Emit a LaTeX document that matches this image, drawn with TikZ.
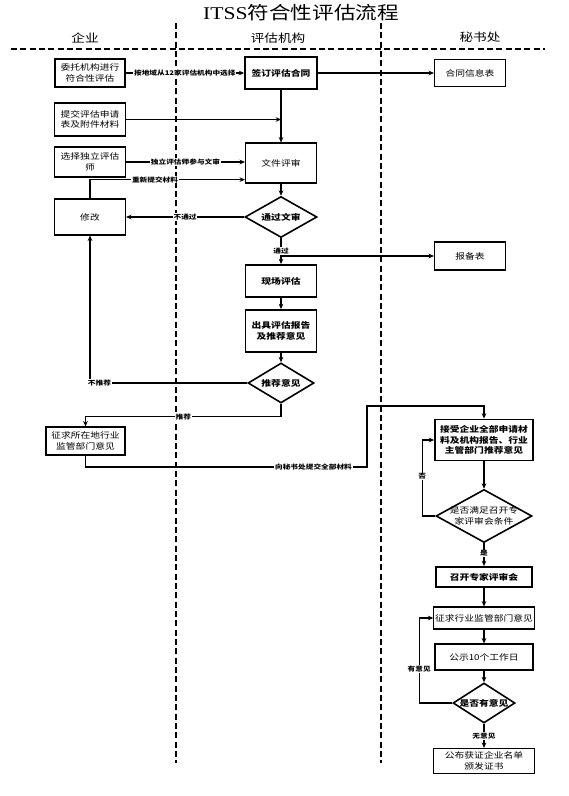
\documentclass[tikz,border=0pt]{standalone}
\usepackage{fontspec}
\setmainfont{Noto Sans CJK SC}[FakeStretch=1.2]
\newfontfamily\latinserif{Liberation Serif}[FakeStretch=1.2]
\usetikzlibrary{arrows.meta, shapes.geometric}

\begin{document}
\begin{tikzpicture}[
    x=0.75pt, y=-0.75pt,
    box/.style={
        rectangle,
        draw,
        line width=0.9pt,
        align=center,
        inner sep=1pt,
        font=\fontsize{6.1}{8}\selectfont
    },
    boldbox/.style={box, line width=1.4pt, font=\fontsize{6.1}{8}\selectfont\bfseries},
    decision/.style={
        diamond,
        draw,
        line width=1.2pt,
        align=center,
        inner sep=-1.5pt,
        font=\fontsize{6.1}{8}\selectfont\bfseries
    },
    arrow/.style={-{Stealth[length=4pt, width=3.5pt]}, line width=0.8pt},
    lbl/.style={fill=white, inner sep=0.5pt, font=\fontsize{4.8}{5}\selectfont\bfseries},
    lane/.style={dash pattern=on 4.5pt off 2.5pt, line width=0.9pt},
    head/.style={font=\fontsize{8.5}{10}\selectfont}
]
\useasboundingbox (0,0) rectangle (568,796);

% title and lanes
\node[font=\fontsize{13.5}{16}\selectfont] (title) at (301,13) {{\latinserif ITSS}符合性评估流程};
\node[head] (hqy) at (85,38) {企业};
\node[head] (hpg) at (278,38) {评估机构};
\node[head] (hms) at (480,37) {秘书处};
\draw[lane] (11,49) -- (545,49);
\draw[lane] (176,23) -- (176,763);
\draw[lane] (381,23) -- (381,763);

% enterprise
\node[box, minimum width=52.5pt, minimum height=21pt] (wt) at (90,73) {委托机构进行\\符合性评估};
\node[box, minimum width=53.25pt, minimum height=24.75pt] (tj) at (90,119.5) {提交评估申请\\表及附件材料};
\node[box, minimum width=53.25pt, minimum height=22.5pt] (xz) at (90,162) {选择独立评估\\师};
\node[box, minimum width=53.25pt, minimum height=27pt] (xg) at (90,217) {修改};
\node[box, minimum width=59.25pt, minimum height=21pt] (zq) at (85.5,441) {征求所在地行业\\监管部门意见};

% assessment body
\node[boldbox, minimum width=54pt, minimum height=24pt] (qd) at (281,73) {签订评估合同};
\node[box, minimum width=53.25pt, minimum height=30pt] (wj) at (281,163) {文件评审};
\node[decision, aspect=1.76, minimum width=54pt, minimum height=30.75pt] (tg) at (281,217) {通过文审};
\node[boldbox, minimum width=53.25pt, minimum height=24pt] (xc) at (281,281) {现场评估};
\node[boldbox, minimum width=53.25pt, minimum height=31.5pt] (cj) at (281,331) {出具评估报告\\及推荐意见};
\node[decision, aspect=1.65, minimum width=49.5pt, minimum height=30pt] (tjyj) at (281,383) {推荐意见};

% secretariat
\node[box, minimum width=53.25pt, minimum height=20.25pt] (ht) at (470,73) {合同信息表};
\node[box, minimum width=53.25pt, minimum height=21pt] (bb) at (470,256) {报备表};
\node[boldbox, minimum width=73.5pt, minimum height=30.75pt] (js) at (484,440) {接受企业全部申请材\\料及机构报告、行业\\主管部门推荐意见};
\node[decision, aspect=1.81, font=\fontsize{6.1}{8}\selectfont, minimum width=72pt, minimum height=39.75pt] (sf) at (484,516) {是否满足召开专\\家评审会条件};
\node[boldbox, minimum width=72pt, minimum height=15pt] (zk) at (484,577) {召开专家评审会};
\node[box, minimum width=74.25pt, minimum height=16.5pt] (zx) at (484,618) {征求行业监管部门意见};
\node[box, minimum width=73.5pt, minimum height=19.5pt] (gs) at (484,657) {公示10个工作日};
\node[decision, aspect=1.55, minimum width=46.5pt, minimum height=30pt] (sy) at (484,703) {是否有意见};
\node[box, minimum width=75.75pt, minimum height=18.75pt] (gb) at (484,761) {公布获证企业名单\\颁发证书};

% helper points
\coordinate (mid) at (tj.east -| qd.south);
\coordinate (pass) at (tg.south |- bb.west);
\coordinate (up1) at (367,467);
\coordinate (up2) at (367,406);

% connectors
\draw[arrow] (wt) -- node[lbl]{按地域从12家评估机构中选择} (qd);
\draw[arrow] (qd) -- (ht);
\draw[arrow] (qd) -- (wj);
\draw[arrow] (tj) -- (mid);
\draw[arrow] (xz.east) -- node[lbl]{独立评估师参与文审} (xz.east -| wj.west);
\draw[arrow] (xg.north) |- node[lbl, pos=0.71]{重新提交材料} ([yshift=3pt]wj.south west);
\draw[arrow] (wj) -- (tg);
\draw[arrow] (tg) -- node[lbl]{不通过} (xg);
\draw[arrow] (tg) -- node[lbl, pos=0.5]{通过} (xc);
\draw[arrow] (pass) -- (bb);
\draw[arrow] (xc) -- (cj);
\draw[arrow] (cj) -- (tjyj);
\draw[arrow] (tjyj.west) -| node[lbl, pos=0.47]{不推荐} (xg.south);
\draw[arrow] (tjyj.south) -- ++(0,13) -| node[lbl, pos=0.25]{推荐} (zq.north);
\draw[arrow] (zq.south) |- node[lbl, pos=0.905]{向秘书处提交全部材料} (up1) -- (up2) -| (js.north);
\draw[arrow] (js) -- (sf);
\draw[arrow] (sf.west) -- ++(-13,0) |- node[lbl, pos=0.26]{否} (js.west);
\draw[arrow] (sf) -- node[lbl, pos=0.44]{是} (zk);
\draw[arrow] (zk) -- (zx);
\draw[arrow] (zx) -- (gs);
\draw[arrow] (gs) -- (sy);
\draw[arrow] (sy.west) -- ++(-33,0) |- node[lbl, pos=0.2]{有意见} (zx.west);
\draw[arrow] (sy) -- node[lbl]{无意见} (gb);

\end{tikzpicture}
\end{document}
